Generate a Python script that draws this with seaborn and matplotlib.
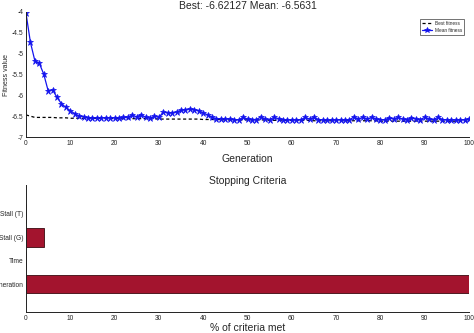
import matplotlib
matplotlib.use("Agg")
import matplotlib.pyplot as plt
import seaborn as sns
import pandas as pd
from matplotlib import font_manager

sns.set_style("white")
names = {f.name for f in font_manager.fontManager.ttflist}
family = "Liberation Sans Narrow" if "Liberation Sans Narrow" in names else "Liberation Sans"
plt.rcParams["font.family"] = [family, "DejaVu Sans"]

generations = list(range(101))
mean_fitness = [
    -4.03, -4.73, -5.17, -5.23, -5.49, -5.89, -5.87, -6.05, -6.20, -6.29,
    -6.37, -6.44, -6.50, -6.51, -6.54, -6.54, -6.54, -6.54, -6.54, -6.54,
    -6.54, -6.54, -6.53, -6.53, -6.47, -6.52, -6.46, -6.53, -6.55, -6.50,
    -6.53, -6.40, -6.42, -6.42, -6.40, -6.36, -6.34, -6.33, -6.34, -6.37,
    -6.42, -6.47, -6.53, -6.56, -6.56, -6.57, -6.57, -6.58, -6.59, -6.53,
    -6.57, -6.58, -6.58, -6.52, -6.57, -6.58, -6.53, -6.56, -6.58, -6.59,
    -6.59, -6.59, -6.59, -6.53, -6.57, -6.53, -6.58, -6.59, -6.59, -6.59,
    -6.59, -6.59, -6.59, -6.59, -6.52, -6.57, -6.53, -6.57, -6.53, -6.57,
    -6.58, -6.59, -6.54, -6.57, -6.53, -6.57, -6.58, -6.54, -6.57, -6.58,
    -6.53, -6.57, -6.58, -6.53, -6.58, -6.59, -6.59, -6.59, -6.59, -6.59,
    -6.5631,
]
best_fitness = [
    -6.47, -6.50, -6.53, -6.53, -6.53, -6.53, -6.53, -6.54, -6.54, -6.54,
    -6.55, -6.55, -6.55, -6.55, -6.55, -6.55, -6.55, -6.55, -6.55, -6.55,
    -6.56, -6.56, -6.56, -6.56, -6.56, -6.56, -6.56, -6.56, -6.56, -6.56,
    -6.57, -6.57, -6.57, -6.57, -6.57, -6.57, -6.57, -6.57, -6.57, -6.57,
    -6.58, -6.58, -6.58, -6.58, -6.58, -6.59, -6.59, -6.59, -6.59, -6.59,
    -6.59, -6.59, -6.59, -6.59, -6.59, -6.60, -6.60, -6.60, -6.60, -6.60,
    -6.60, -6.60, -6.60, -6.60, -6.60, -6.61, -6.61, -6.61, -6.61, -6.61,
    -6.61, -6.61, -6.61, -6.61, -6.61, -6.61, -6.61, -6.61, -6.61, -6.61,
    -6.62, -6.62, -6.62, -6.62, -6.62, -6.62, -6.62, -6.62, -6.62, -6.62,
    -6.62, -6.62, -6.62, -6.62, -6.62, -6.62, -6.62, -6.62, -6.62, -6.62,
    -6.62127,
]
criteria = ["Stall (T)", "Stall (G)", "Time", "Generation"]
criteria_met = [0, 4, 0, 100]

W, H = 474, 333
fig = plt.figure(figsize=(W / 100, H / 100), dpi=100)

# --- fitness history ---
ax1 = fig.add_axes([26 / W, 1 - 137 / H, 443 / W, 125 / H])
df = pd.DataFrame({"gen": generations, "best": best_fitness, "mean": mean_fitness})
sns.lineplot(data=df, x="gen", y="best", ax=ax1, color="black", lw=0.9,
             linestyle=(0, (2.5, 2)), label="Best fitness")
sns.lineplot(data=df, x="gen", y="mean", ax=ax1, color="#1414ee", lw=0.9,
             marker="*", markersize=4.8, markeredgewidth=0.5,
             markeredgecolor="#1414ee", label="Mean fitness")
ax1.set_xlim(0, 100)
ax1.set_ylim(-7, -4)
ax1.set_xticks(range(0, 101, 10))
ax1.set_yticks([-7, -6.5, -6, -5.5, -5, -4.5, -4])
ax1.set_yticklabels(["-7", "-6.5", "-6", "-5.5", "-5", "-4.5", "-4"])
ax1.set_xlabel("Generation", fontsize=7.5, labelpad=5)
ax1.set_ylabel("Fitness value", fontsize=5, labelpad=1)
ax1.set_title("Best: -6.62127 Mean: -6.5631", fontsize=7.5, pad=2)
ax1.tick_params(direction="in", length=2.5, width=0.6, labelsize=4.8, pad=2)
for s in ["top", "right"]:
    ax1.spines[s].set_visible(False)
for s in ["left", "bottom"]:
    ax1.spines[s].set_linewidth(0.7)
    ax1.spines[s].set_color("#222222")
leg = ax1.legend(loc="upper right", fontsize=3.4, frameon=True, fancybox=False,
                 borderpad=0.45, handlelength=2.2, handletextpad=0.6,
                 labelspacing=0.45, bbox_to_anchor=(0.995, 0.965),
                 markerscale=0.8)
leg.get_frame().set_edgecolor("#333333")
leg.get_frame().set_linewidth(0.6)

# --- stopping criteria ---
ax2 = fig.add_axes([26 / W, 1 - 312 / H, 443 / W, 127 / H])
bdf = pd.DataFrame({"criterion": criteria, "pct": criteria_met})
sns.barplot(data=bdf, x="pct", y="criterion", order=criteria, ax=ax2, orient="h",
            color="#a3142e", saturation=1, width=0.8, edgecolor="#3a0a10", linewidth=0.6)
ax2.set_xlim(0, 100)
ax2.set_ylim(4.19, -1.23)
ax2.set_xticks(range(0, 101, 10))
ax2.set_xlabel("% of criteria met", fontsize=7.5, labelpad=1)
ax2.set_ylabel("")
ax2.set_title("Stopping Criteria", fontsize=7.5, pad=1)
ax2.tick_params(direction="in", length=3, width=0.6, labelsize=4.8, pad=2)
for s in ["top", "right"]:
    ax2.spines[s].set_visible(False)
for s in ["left", "bottom"]:
    ax2.spines[s].set_linewidth(0.7)
    ax2.spines[s].set_color("#222222")

fig.savefig("out.png", dpi=100)
